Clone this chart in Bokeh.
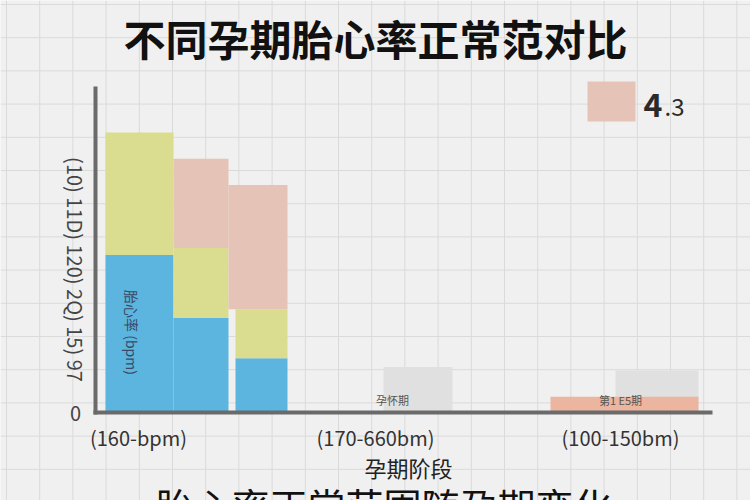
from bokeh.plotting import figure
from bokeh.models import Range1d
from bokeh.core.properties import value
from bokeh.embed import file_html
from bokeh.resources import INLINE
import math

# ---------------- data ----------------
stages = ["(160-bpm)", "(170-660bm)", "(100-150bm)"]
# first stage: three stacked sub-bars (bpm-like units)
early_blue = [90, 54, 31]
early_yellow = [70, 40, 28]
early_pink = [0, 51, 71]
# second stage
mid_gray = [26]
mid_label = ["孕怀期"]
# third stage
late_gray = [24]
late_orange = [9]
late_label = ["第1 E5期"]
y_tick_text = "(10) 11D) 120) 2Q) 15) 97"
zero_label = "0"
inner_label = "胎心率 (bpm)"
legend_value = "4.3"
title = "不同孕期胎心率正常范对比"
x_title = "孕期阶段"
bottom_title = "胎心率正常范围随孕期变化"

# ---------------- layout ----------------
W, H = 750, 500
PX = 1.75            # pixels per unit
BASE = 412           # picture y of zero line
def yd(py):
    return (BASE - py) / PX

FONT = value("Noto Sans CJK SC")
BLUE, YELLOW, PINK = "#5cb5de", "#dadc8f", "#e6c3b7"
GRAY, ORANGE = "#e0e0e0", "#ebb59f"

p = figure(width=W, height=H, output_backend="svg", toolbar_location=None,
           x_range=Range1d(0, W), y_range=Range1d(yd(H), yd(0)),
           x_axis_type=None, y_axis_type=None, min_border=0,
           background_fill_color="#f0f0f0", border_fill_color="#f0f0f0",
           outline_line_color=None)
p.grid.visible = False

# background grid
gx = [6 + 33.2 * k for k in range(23)]
p.segment(x0=gx, x1=gx, y0=[yd(0)] * len(gx), y1=[yd(500)] * len(gx),
          line_color="#dadada", line_width=1)
gy = [4 + 33.2 * k for k in range(16)]
p.segment(x0=[0] * len(gy), x1=[750] * len(gy), y0=[yd(v) for v in gy], y1=[yd(v) for v in gy],
          line_color="#dadada", line_width=1)

# stage 1 stacked bars
lefts_low = [105, 173, 235]
lefts_pink = [105, 173, 228]
rights = [173, 228, 287]
b0 = [0, 0, 0]
b1 = early_blue
b2 = [a + b for a, b in zip(early_blue, early_yellow)]
b3 = [a + b for a, b in zip(b2, early_pink)]
p.quad(left=lefts_low, right=rights, bottom=b0, top=b1, fill_color=BLUE, line_color=None)
p.quad(left=lefts_low, right=rights, bottom=b1, top=b2, fill_color=YELLOW, line_color=None)
p.quad(left=lefts_pink, right=rights, bottom=b2, top=b3, fill_color=PINK, line_color=None)

# stage 2
p.quad(left=[383], right=[452], bottom=[0], top=mid_gray, fill_color=GRAY, line_color=None)
p.text(x=[392], y=[yd(399)], text=mid_label, text_font=FONT, text_font_size="11px",
       text_color="#555555", text_align="center", text_baseline="middle")
# stage 3
p.quad(left=[615], right=[698], bottom=[0], top=late_gray, fill_color=GRAY, line_color=None)
p.quad(left=[550], right=[698], bottom=[0], top=late_orange, fill_color=ORANGE, line_color=None)
p.text(x=[620], y=[yd(399)], text=late_label, text_font=FONT, text_font_size="11px",
       text_color="#555555", text_align="center", text_baseline="middle")

# axes
p.segment(x0=[95], x1=[95], y0=[yd(86)], y1=[yd(414)], line_color="#6a6a6a", line_width=4)
p.segment(x0=[93], x1=[712], y0=[0], y1=[0], line_color="#6a6a6a", line_width=4)

# inner label
p.text(x=[131], y=[yd(332)], text=[inner_label], text_font=FONT, text_font_size="14px",
       text_color="#3a4a66", angle=-math.pi / 2, text_align="center", text_baseline="middle")

# y tick text (rotated)
p.text(x=[75], y=[yd(269)], text=[y_tick_text], text_font=FONT, text_font_size="20px",
       text_color="#444444", angle=-math.pi / 2, text_align="center", text_baseline="middle")
p.text(x=[75], y=[yd(413)], text=[zero_label], text_font=FONT, text_font_size="20px",
       text_color="#444444", text_align="center", text_baseline="middle")

# x labels
centers = [138, 375, 620]
p.text(x=centers, y=[yd(437)] * 3, text=stages, text_font=FONT, text_font_size="20px",
       text_color="#333333", text_align="center", text_baseline="middle")
p.text(x=[408], y=[yd(466)], text=[x_title], text_font=FONT, text_font_size="22px",
       text_color="#222222", text_align="center", text_baseline="middle")
p.text(x=[383], y=[yd(504)], text=[bottom_title], text_font=FONT, text_font_size="38px",
       text_color="#111111", text_align="center", text_baseline="middle")

# legend
p.quad(left=[587], right=[635], bottom=[yd(121)], top=[yd(81)], fill_color=PINK, line_color=None)
p.text(x=[643], y=[yd(104)], text=[legend_value[0]], text_font=FONT, text_font_size="32px",
       text_font_style="bold", text_color="#2a2a2a", text_align="left", text_baseline="middle")
p.text(x=[664], y=[yd(106)], text=[legend_value[1:]], text_font=FONT, text_font_size="24px",
       text_color="#2a2a2a", text_align="left", text_baseline="middle")

# title
p.text(x=[375], y=[yd(37)], text=[title], text_font=FONT, text_font_size="42px",
       text_font_style="bold", text_color="#111111", text_align="center", text_baseline="middle")

open("out.html", "w").write(file_html(p, INLINE))
